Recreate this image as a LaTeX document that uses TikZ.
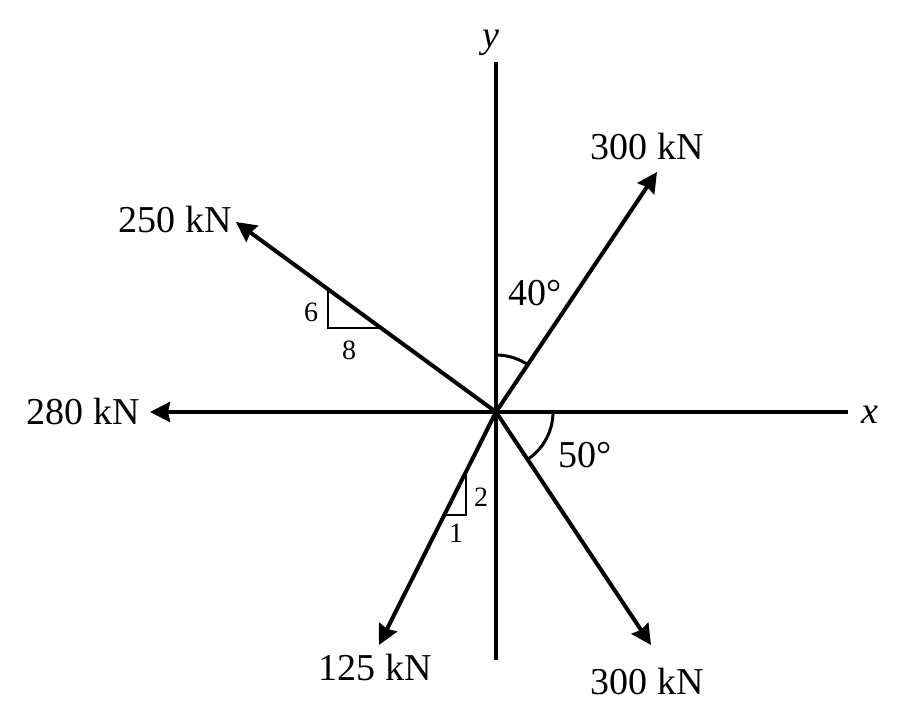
\documentclass[tikz,border=0pt]{standalone}
\usepackage{fontspec}
\setmainfont{Liberation Serif}
\usetikzlibrary{arrows.meta}
\begin{document}
\begin{tikzpicture}[x=0.5pt,y=0.5pt,
  axisline/.style={line width=2pt},
  force/.style={line width=2pt,-{Stealth[length=10pt,width=10pt,inset=1pt]}},
  slopetri/.style={line width=1pt},
  anglearc/.style={line width=1.5pt},
  biglabel/.style={font=\fontsize{19}{22}\selectfont,inner sep=0pt},
  smalllabel/.style={font=\fontsize{14}{16}\selectfont,inner sep=0pt}]
\useasboundingbox (0,0) rectangle (917,726);
% points
\coordinate (O) at (496,314);
\coordinate (Ytop) at (496,664);
\coordinate (Ybot) at (496,66);
\coordinate (Xend) at (848,314);
\coordinate (F280) at (150,314);
\coordinate (F300a) at (657,554);
\coordinate (F250) at (236,504);
\coordinate (F125) at (379,81);
\coordinate (F300b) at (651,81);
% axes
\draw[axisline] (Ybot) -- (Ytop);
\draw[axisline] (O) -- (Xend);
% forces
\draw[force] (O) -- (F280);
\draw[force] (O) -- (F300a);
\draw[force] (O) -- (F250);
\draw[force] (O) -- (F125);
\draw[force] (O) -- (F300b);
% slope triangles
\coordinate (Ta1) at (328,437);
\coordinate (Ta2) at (328,398);
\coordinate (Ta3) at (381,398);
\draw[slopetri] (Ta1) -- (Ta2) -- (Ta3);
\coordinate (Tb1) at (444,211);
\coordinate (Tb2) at (466,211);
\coordinate (Tb3) at (466,254);
\draw[slopetri] (Tb1) -- (Tb2) -- (Tb3);
% angle arcs
\draw[anglearc] ([shift={(90:28.5pt)}]O) arc[start angle=90,end angle=56.1,radius=28.5pt];
\draw[anglearc] ([shift={(0:28.5pt)}]O) arc[start angle=0,end angle=-55.8,radius=28.5pt];
% labels
\node[biglabel] (ly) at (491,683) {\itshape y};
\node[biglabel] (lx) at (870,311) {\itshape x};
\node[biglabel] (l300a) at (647,579) {300 kN};
\node[biglabel] (l250) at (175,506) {250 kN};
\node[biglabel] (l280) at (83,314) {280 kN};
\node[biglabel] (l125) at (375,58) {125 kN};
\node[biglabel] (l300b) at (647,44) {300 kN};
\node[biglabel] (l40) at (535,433) {40°};
\node[biglabel] (l50) at (585,271) {50°};
\node[smalllabel] (l6) at (311,414) {6};
\node[smalllabel] (l8) at (349,376) {8};
\node[smalllabel] (l2) at (481,229) {2};
\node[smalllabel] (l1) at (456,193) {1};
\end{tikzpicture}
\end{document}
